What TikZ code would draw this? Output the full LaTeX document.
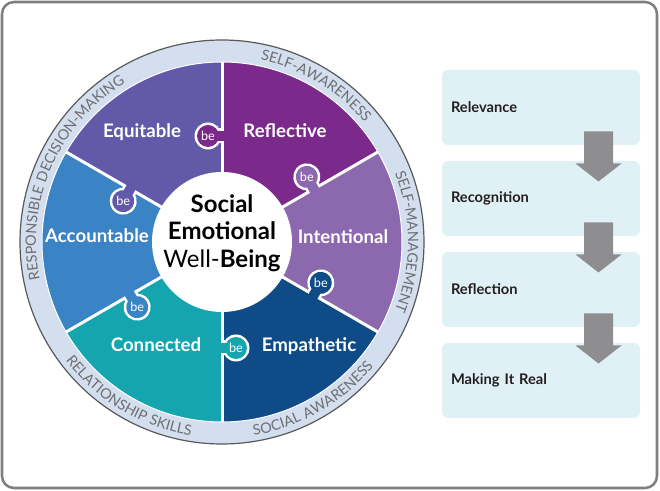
\documentclass[tikz,border=0pt]{standalone}
\usepackage{fontspec}
\setmainfont{Lato}
\newfontfamily\ringfont[LetterSpace=6]{Lato}
\usetikzlibrary{positioning,calc,decorations.text}

\definecolor{colEquitable}{HTML}{6359A9}
\definecolor{colReflective}{HTML}{7B2A8B}
\definecolor{colIntentional}{HTML}{8C68AE}
\definecolor{colEmpathetic}{HTML}{0F4C87}
\definecolor{colConnected}{HTML}{14A5AE}
\definecolor{colAccountable}{HTML}{3A84C5}
\definecolor{ringblue}{HTML}{D3DEEF}
\definecolor{ringedge}{HTML}{58595B}
\definecolor{ringtext}{HTML}{6D6E70}
\definecolor{boxblue}{HTML}{E0F1F5}
\definecolor{arrowgray}{HTML}{8E8E90}
\definecolor{framegray}{HTML}{7F7F7F}
\definecolor{textdark}{HTML}{231F20}

\tikzset{every picture/.style={line width=0.75pt}}
\tikzset{
  seglabel/.style={text=white, font=\fontsize{14}{16}\selectfont\bfseries, inner sep=0pt, anchor=base},
  betext/.style={text=white, font=\fontsize{9.5}{11}\selectfont, inner sep=0pt},
  stepbox/.style={fill=boxblue, rounded corners=4.5pt, minimum width=148.5pt, minimum height=56.25pt,
    text width=135pt, align=left, inner xsep=6.75pt, font=\fontsize{11}{13}\selectfont\bfseries, text=textdark},
  ringlabel/.style={decorate, decoration={text along path, text align=center, text color=ringtext,
    text={|\ringfont\fontsize{10.8}{12}\selectfont|#1}}}
}

\begin{document}
\begin{tikzpicture}[x=0.75pt,y=0.75pt]
\useasboundingbox (-222,-249) rectangle (438,242);

% outer frame
\draw[framegray, line width=1.9pt, rounded corners=9pt] (-220,-246) rectangle (435,240);

% competency ring
\fill[ringblue] (0,0) circle[radius=202];
\draw[ringedge, line width=0.9pt] (0,0) circle[radius=202];

% puzzle segments
\foreach \a/\col in {30/colReflective, 90/colEquitable, 150/colAccountable, 210/colConnected, 270/colEmpathetic, 330/colIntentional}
  \fill[\col] (0,0) -- (\a:180) arc[start angle=\a, end angle=\a+60, radius=180] -- cycle;
\draw[white, line width=0.75pt] (0,0) circle[radius=180];
\foreach \a in {30,90,...,330}
  \draw[white, line width=2.25pt] (0,0) -- (\a:180);

% be knobs
\foreach \a/\col [count=\i] in {90/colReflective, 30/colIntentional, -30/colEmpathetic, -90/colConnected, 210/colAccountable, 150/colEquitable}{
  \begin{scope}[rotate=\a]
    \fill[white] (106,14) circle[radius=13.5];
    \fill[white] (98.5,0) rectangle (113.5,8);
    \fill[\col] (106,14) circle[radius=11];
    \fill[\col] (101,-3) rectangle (111,8);
  \end{scope}
  \node[betext] (be\i) at ($(\a:106)+(\a+90:14)$) {be};
}

% centre
\fill[white] (0,0) circle[radius=70];
\node[font=\fontsize{18}{20.6}\selectfont, align=center, text=black, inner sep=0pt] (wellbeing) at (0,9)
  {\textbf{Social}\\\textbf{Emotional}\\Well-\textbf{Being}};

% segment labels
\node[seglabel] (equitable) at (-80,104) {Equitable};
\node[seglabel] (reflective) at (63,104) {Reflective};
\node[seglabel] (intentional) at (121,-2) {Intentional};
\node[seglabel] (empathetic) at (87,-110) {Empathetic};
\node[seglabel] (connected) at (-66,-110) {Connected};
\node[seglabel] (accountable) at (-125,-1) {Accountable};

% ring labels
\path[ringlabel=SELF-AWARENESS] (97:186) arc[start angle=97, end angle=21, radius=186];
\path[ringlabel=SELF-MANAGEMENT] (38:186) arc[start angle=38, end angle=-38, radius=186];
\path[ringlabel=SOCIAL AWARENESS] (-102:196) arc[start angle=-102, end angle=-18, radius=196];
\path[ringlabel=RELATIONSHIP SKILLS] (197:196) arc[start angle=197, end angle=281, radius=196];
\path[ringlabel=RESPONSIBLE DECISION-MAKING] (205:186) arc[start angle=205, end angle=108, radius=186];

% steps
\node[stepbox] (relevance) at (319,134.5) {Relevance};
\node[stepbox, below=11.25pt of relevance] (recognition) {Recognition};
\node[stepbox, below=11.25pt of recognition] (reflection) {Reflection};
\node[stepbox, below=11.25pt of reflection] (makingreal) {Making It Real};

\foreach \a/\b in {relevance/recognition, recognition/reflection, reflection/makingreal}
  \fill[arrowgray] ($(\a.south east)+(-56.5,14)$) -- ($(\a.south east)+(-27.5,14)$)
    -- ($(\a.south east)+(-27.5,-18)$) -- ($(\a.south east)+(-19,-18)$)
    -- ($(\b.north east)+(-42,-21)$) -- ($(\a.south east)+(-65,-18)$)
    -- ($(\a.south east)+(-56.5,-18)$) -- cycle;

\end{tikzpicture}
\end{document}
